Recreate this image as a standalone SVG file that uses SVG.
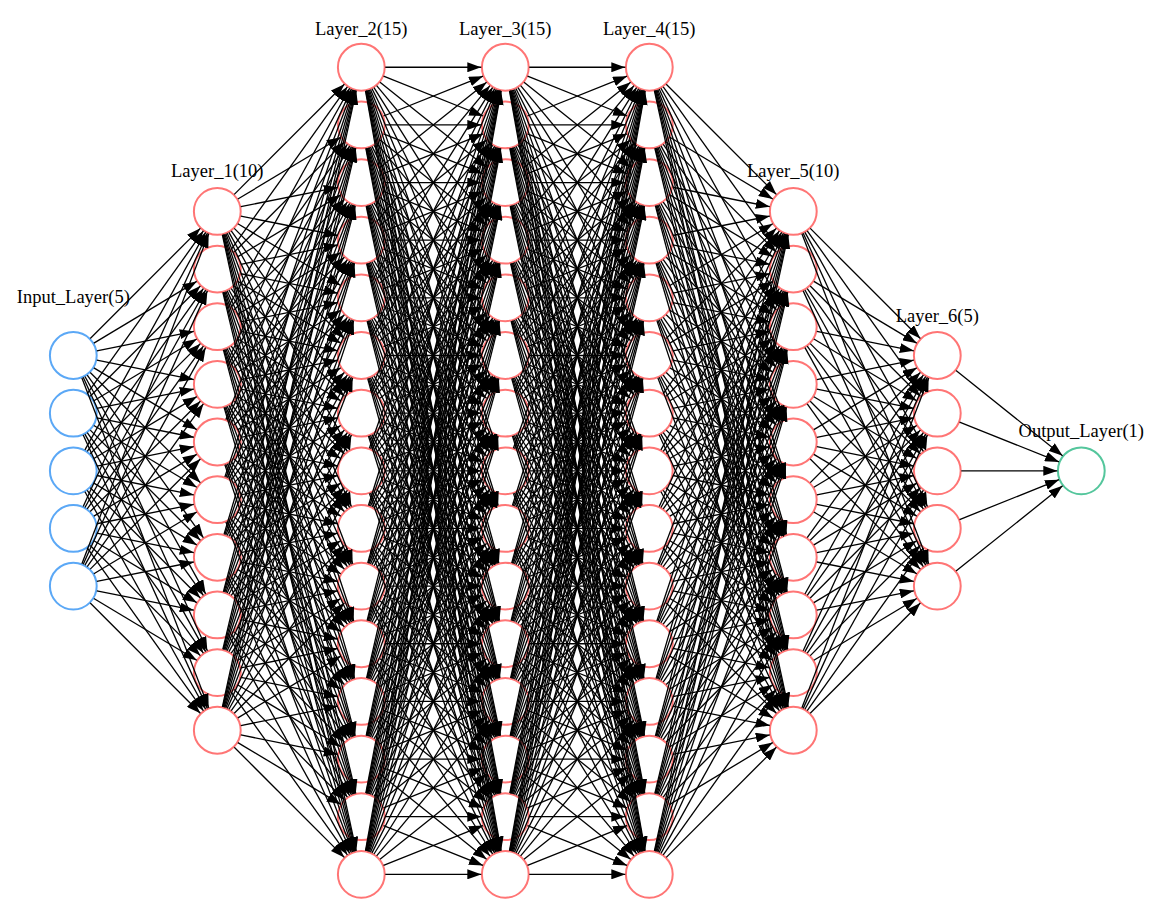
<svg xmlns="http://www.w3.org/2000/svg" xmlns:xlink="http://www.w3.org/1999/xlink" width="1161" height="903" viewBox="0 0 1161 903">
<style>
.n circle{fill:#fff;stroke-width:2}
.in circle{stroke:#5ba8f6}
.hd circle{stroke:#ff7575}
.ot circle{stroke:#54c69c}
.lb text{font-family:"Liberation Serif","Times New Roman",serif;font-size:18.5px;fill:#000;text-anchor:middle}
</style>
<defs>
<marker id="arr" viewBox="0 -5 14 10" refX="14" refY="0" markerWidth="14" markerHeight="10" markerUnits="userSpaceOnUse" orient="auto"><path d="M0,-5L14,0L0,5z" fill="#000" stroke="none"/></marker>
<g id="tpl">
<path id="a0" d="M24 0L120 0"/>
<path id="a1" d="M23.53 4.71L120.47 24.11"/><path id="b1" d="M23.53 -4.71L120.47 -24.11"/>
<path id="a2" d="M22.28 8.92L121.72 48.73"/><path id="b2" d="M22.28 -8.92L121.72 -48.73"/>
<path id="a3" d="M20.58 12.36L123.42 74.12"/><path id="b3" d="M20.58 -12.36L123.42 -74.12"/>
<path id="a4" d="M18.73 15L125.27 100.3"/><path id="b4" d="M18.73 -15L125.27 -100.3"/>
<path id="a5" d="M16.96 16.98L127.04 127.15"/><path id="b5" d="M16.96 -16.98L127.04 -127.15"/>
<path id="a6" d="M15.36 18.44L128.64 154.51"/><path id="b6" d="M15.36 -18.44L128.64 -154.51"/>
<path id="a7" d="M13.94 19.54L130.06 182.24"/><path id="b7" d="M13.94 -19.54L130.06 -182.24"/>
<path id="a8" d="M12.71 20.36L131.29 210.24"/><path id="b8" d="M12.71 -20.36L131.29 -210.24"/>
<path id="a9" d="M11.65 20.98L132.35 238.44"/><path id="b9" d="M11.65 -20.98L132.35 -238.44"/>
<path id="a10" d="M10.73 21.47L133.27 266.78"/><path id="b10" d="M10.73 -21.47L133.27 -266.78"/>
<path id="a11" d="M9.92 21.85L134.08 295.22"/><path id="b11" d="M9.92 -21.85L134.08 -295.22"/>
<path id="a12" d="M9.22 22.16L134.78 323.74"/><path id="b12" d="M9.22 -22.16L134.78 -323.74"/>
<path id="a13" d="M8.61 22.4L135.39 352.32"/><path id="b13" d="M8.61 -22.4L135.39 -352.32"/>
<path id="a14" d="M8.07 22.6L135.93 380.95"/><path id="b14" d="M8.07 -22.6L135.93 -380.95"/>
<path id="a15" d="M7.58 22.77L136.42 409.61"/><path id="b15" d="M7.58 -22.77L136.42 -409.61"/>
<path id="a16" d="M7.15 22.91L136.85 438.29"/><path id="b16" d="M7.15 -22.91L136.85 -438.29"/>
<path id="a17" d="M6.77 23.03L137.23 467"/><path id="b17" d="M6.77 -23.03L137.23 -467"/>
<path id="a18" d="M6.42 23.13L137.58 495.72"/><path id="b18" d="M6.42 -23.13L137.58 -495.72"/>
<path id="a19" d="M6.1 23.21L137.9 524.46"/><path id="b19" d="M6.1 -23.21L137.9 -524.46"/>
<path id="a20" d="M5.82 23.29L138.18 553.22"/><path id="b20" d="M5.82 -23.29L138.18 -553.22"/>
<path id="a21" d="M5.55 23.35L138.45 581.98"/><path id="b21" d="M5.55 -23.35L138.45 -581.98"/>
<path id="a22" d="M5.32 23.4L138.68 610.75"/><path id="b22" d="M5.32 -23.4L138.68 -610.75"/>
<path id="a23" d="M5.09 23.45L138.91 639.52"/><path id="b23" d="M5.09 -23.45L138.91 -639.52"/>
<path id="a24" d="M4.89 23.5L139.11 668.3"/><path id="b24" d="M4.89 -23.5L139.11 -668.3"/>
<path id="a26" d="M4.53 23.57L139.47 725.88"/><path id="b26" d="M4.53 -23.57L139.47 -725.88"/>
<path id="a28" d="M4.22 23.63L139.78 783.47"/><path id="b28" d="M4.22 -23.63L139.78 -783.47"/>
</g>
</defs>
<rect width="1161" height="903" fill="#fff"/>
<g id="nodes">
<g id="input_0" class="n in"><circle cx="73.3" cy="355.5" r="23.4"/></g>
<g id="input_1" class="n in"><circle cx="73.3" cy="413.15" r="23.4"/></g>
<g id="input_2" class="n in"><circle cx="73.3" cy="470.8" r="23.4"/></g>
<g id="input_3" class="n in"><circle cx="73.3" cy="528.45" r="23.4"/></g>
<g id="input_4" class="n in"><circle cx="73.3" cy="586.1" r="23.4"/></g>
<g id="l1_0" class="n hd"><circle cx="217.3" cy="211.38" r="23.4"/></g>
<g id="l1_1" class="n hd"><circle cx="217.3" cy="269.03" r="23.4"/></g>
<g id="l1_2" class="n hd"><circle cx="217.3" cy="326.68" r="23.4"/></g>
<g id="l1_3" class="n hd"><circle cx="217.3" cy="384.33" r="23.4"/></g>
<g id="l1_4" class="n hd"><circle cx="217.3" cy="441.98" r="23.4"/></g>
<g id="l1_5" class="n hd"><circle cx="217.3" cy="499.63" r="23.4"/></g>
<g id="l1_6" class="n hd"><circle cx="217.3" cy="557.28" r="23.4"/></g>
<g id="l1_7" class="n hd"><circle cx="217.3" cy="614.93" r="23.4"/></g>
<g id="l1_8" class="n hd"><circle cx="217.3" cy="672.58" r="23.4"/></g>
<g id="l1_9" class="n hd"><circle cx="217.3" cy="730.23" r="23.4"/></g>
<g id="l2_0" class="n hd"><circle cx="361.3" cy="67.25" r="23.4"/></g>
<g id="l2_1" class="n hd"><circle cx="361.3" cy="124.9" r="23.4"/></g>
<g id="l2_2" class="n hd"><circle cx="361.3" cy="182.55" r="23.4"/></g>
<g id="l2_3" class="n hd"><circle cx="361.3" cy="240.2" r="23.4"/></g>
<g id="l2_4" class="n hd"><circle cx="361.3" cy="297.85" r="23.4"/></g>
<g id="l2_5" class="n hd"><circle cx="361.3" cy="355.5" r="23.4"/></g>
<g id="l2_6" class="n hd"><circle cx="361.3" cy="413.15" r="23.4"/></g>
<g id="l2_7" class="n hd"><circle cx="361.3" cy="470.8" r="23.4"/></g>
<g id="l2_8" class="n hd"><circle cx="361.3" cy="528.45" r="23.4"/></g>
<g id="l2_9" class="n hd"><circle cx="361.3" cy="586.1" r="23.4"/></g>
<g id="l2_10" class="n hd"><circle cx="361.3" cy="643.75" r="23.4"/></g>
<g id="l2_11" class="n hd"><circle cx="361.3" cy="701.4" r="23.4"/></g>
<g id="l2_12" class="n hd"><circle cx="361.3" cy="759.05" r="23.4"/></g>
<g id="l2_13" class="n hd"><circle cx="361.3" cy="816.7" r="23.4"/></g>
<g id="l2_14" class="n hd"><circle cx="361.3" cy="874.35" r="23.4"/></g>
<g id="l3_0" class="n hd"><circle cx="505.3" cy="67.25" r="23.4"/></g>
<g id="l3_1" class="n hd"><circle cx="505.3" cy="124.9" r="23.4"/></g>
<g id="l3_2" class="n hd"><circle cx="505.3" cy="182.55" r="23.4"/></g>
<g id="l3_3" class="n hd"><circle cx="505.3" cy="240.2" r="23.4"/></g>
<g id="l3_4" class="n hd"><circle cx="505.3" cy="297.85" r="23.4"/></g>
<g id="l3_5" class="n hd"><circle cx="505.3" cy="355.5" r="23.4"/></g>
<g id="l3_6" class="n hd"><circle cx="505.3" cy="413.15" r="23.4"/></g>
<g id="l3_7" class="n hd"><circle cx="505.3" cy="470.8" r="23.4"/></g>
<g id="l3_8" class="n hd"><circle cx="505.3" cy="528.45" r="23.4"/></g>
<g id="l3_9" class="n hd"><circle cx="505.3" cy="586.1" r="23.4"/></g>
<g id="l3_10" class="n hd"><circle cx="505.3" cy="643.75" r="23.4"/></g>
<g id="l3_11" class="n hd"><circle cx="505.3" cy="701.4" r="23.4"/></g>
<g id="l3_12" class="n hd"><circle cx="505.3" cy="759.05" r="23.4"/></g>
<g id="l3_13" class="n hd"><circle cx="505.3" cy="816.7" r="23.4"/></g>
<g id="l3_14" class="n hd"><circle cx="505.3" cy="874.35" r="23.4"/></g>
<g id="l4_0" class="n hd"><circle cx="649.3" cy="67.25" r="23.4"/></g>
<g id="l4_1" class="n hd"><circle cx="649.3" cy="124.9" r="23.4"/></g>
<g id="l4_2" class="n hd"><circle cx="649.3" cy="182.55" r="23.4"/></g>
<g id="l4_3" class="n hd"><circle cx="649.3" cy="240.2" r="23.4"/></g>
<g id="l4_4" class="n hd"><circle cx="649.3" cy="297.85" r="23.4"/></g>
<g id="l4_5" class="n hd"><circle cx="649.3" cy="355.5" r="23.4"/></g>
<g id="l4_6" class="n hd"><circle cx="649.3" cy="413.15" r="23.4"/></g>
<g id="l4_7" class="n hd"><circle cx="649.3" cy="470.8" r="23.4"/></g>
<g id="l4_8" class="n hd"><circle cx="649.3" cy="528.45" r="23.4"/></g>
<g id="l4_9" class="n hd"><circle cx="649.3" cy="586.1" r="23.4"/></g>
<g id="l4_10" class="n hd"><circle cx="649.3" cy="643.75" r="23.4"/></g>
<g id="l4_11" class="n hd"><circle cx="649.3" cy="701.4" r="23.4"/></g>
<g id="l4_12" class="n hd"><circle cx="649.3" cy="759.05" r="23.4"/></g>
<g id="l4_13" class="n hd"><circle cx="649.3" cy="816.7" r="23.4"/></g>
<g id="l4_14" class="n hd"><circle cx="649.3" cy="874.35" r="23.4"/></g>
<g id="l5_0" class="n hd"><circle cx="793.3" cy="211.38" r="23.4"/></g>
<g id="l5_1" class="n hd"><circle cx="793.3" cy="269.03" r="23.4"/></g>
<g id="l5_2" class="n hd"><circle cx="793.3" cy="326.68" r="23.4"/></g>
<g id="l5_3" class="n hd"><circle cx="793.3" cy="384.33" r="23.4"/></g>
<g id="l5_4" class="n hd"><circle cx="793.3" cy="441.98" r="23.4"/></g>
<g id="l5_5" class="n hd"><circle cx="793.3" cy="499.63" r="23.4"/></g>
<g id="l5_6" class="n hd"><circle cx="793.3" cy="557.28" r="23.4"/></g>
<g id="l5_7" class="n hd"><circle cx="793.3" cy="614.93" r="23.4"/></g>
<g id="l5_8" class="n hd"><circle cx="793.3" cy="672.58" r="23.4"/></g>
<g id="l5_9" class="n hd"><circle cx="793.3" cy="730.23" r="23.4"/></g>
<g id="l6_0" class="n hd"><circle cx="937.3" cy="355.5" r="23.4"/></g>
<g id="l6_1" class="n hd"><circle cx="937.3" cy="413.15" r="23.4"/></g>
<g id="l6_2" class="n hd"><circle cx="937.3" cy="470.8" r="23.4"/></g>
<g id="l6_3" class="n hd"><circle cx="937.3" cy="528.45" r="23.4"/></g>
<g id="l6_4" class="n hd"><circle cx="937.3" cy="586.1" r="23.4"/></g>
<g id="output_0" class="n ot"><circle cx="1081.3" cy="470.8" r="23.4"/></g>
</g>
<g id="labels" class="lb">
<text x="73.3" y="303.3">Input_Layer(5)</text>
<text x="217.3" y="177.3">Layer_1(10)</text>
<text x="361.3" y="35">Layer_2(15)</text>
<text x="505.3" y="35">Layer_3(15)</text>
<text x="649.3" y="35">Layer_4(15)</text>
<text x="793.3" y="177.3">Layer_5(10)</text>
<text x="937.3" y="321.7">Layer_6(5)</text>
<text x="1081.3" y="436.7">Output_Layer(1)</text>
</g>
<g id="connectors" fill="none" stroke="#000" stroke-width="1.3" marker-end="url(#arr)">
<g id="e_in_l1">
<g transform="translate(73.3,355.5)"><use href="#b5"/><use href="#b3"/><use href="#b1"/><use href="#a1"/><use href="#a3"/><use href="#a5"/><use href="#a7"/><use href="#a9"/><use href="#a11"/><use href="#a13"/></g>
<g transform="translate(73.3,413.15)"><use href="#b7"/><use href="#b5"/><use href="#b3"/><use href="#b1"/><use href="#a1"/><use href="#a3"/><use href="#a5"/><use href="#a7"/><use href="#a9"/><use href="#a11"/></g>
<g transform="translate(73.3,470.8)"><use href="#b9"/><use href="#b7"/><use href="#b5"/><use href="#b3"/><use href="#b1"/><use href="#a1"/><use href="#a3"/><use href="#a5"/><use href="#a7"/><use href="#a9"/></g>
<g transform="translate(73.3,528.45)"><use href="#b11"/><use href="#b9"/><use href="#b7"/><use href="#b5"/><use href="#b3"/><use href="#b1"/><use href="#a1"/><use href="#a3"/><use href="#a5"/><use href="#a7"/></g>
<g transform="translate(73.3,586.1)"><use href="#b13"/><use href="#b11"/><use href="#b9"/><use href="#b7"/><use href="#b5"/><use href="#b3"/><use href="#b1"/><use href="#a1"/><use href="#a3"/><use href="#a5"/></g>
</g>
<g id="e_l1_l2">
<g transform="translate(217.3,211.38)"><use href="#b5"/><use href="#b3"/><use href="#b1"/><use href="#a1"/><use href="#a3"/><use href="#a5"/><use href="#a7"/><use href="#a9"/><use href="#a11"/><use href="#a13"/><use href="#a15"/><use href="#a17"/><use href="#a19"/><use href="#a21"/><use href="#a23"/></g>
<g transform="translate(217.3,269.03)"><use href="#b7"/><use href="#b5"/><use href="#b3"/><use href="#b1"/><use href="#a1"/><use href="#a3"/><use href="#a5"/><use href="#a7"/><use href="#a9"/><use href="#a11"/><use href="#a13"/><use href="#a15"/><use href="#a17"/><use href="#a19"/><use href="#a21"/></g>
<g transform="translate(217.3,326.68)"><use href="#b9"/><use href="#b7"/><use href="#b5"/><use href="#b3"/><use href="#b1"/><use href="#a1"/><use href="#a3"/><use href="#a5"/><use href="#a7"/><use href="#a9"/><use href="#a11"/><use href="#a13"/><use href="#a15"/><use href="#a17"/><use href="#a19"/></g>
<g transform="translate(217.3,384.33)"><use href="#b11"/><use href="#b9"/><use href="#b7"/><use href="#b5"/><use href="#b3"/><use href="#b1"/><use href="#a1"/><use href="#a3"/><use href="#a5"/><use href="#a7"/><use href="#a9"/><use href="#a11"/><use href="#a13"/><use href="#a15"/><use href="#a17"/></g>
<g transform="translate(217.3,441.98)"><use href="#b13"/><use href="#b11"/><use href="#b9"/><use href="#b7"/><use href="#b5"/><use href="#b3"/><use href="#b1"/><use href="#a1"/><use href="#a3"/><use href="#a5"/><use href="#a7"/><use href="#a9"/><use href="#a11"/><use href="#a13"/><use href="#a15"/></g>
<g transform="translate(217.3,499.63)"><use href="#b15"/><use href="#b13"/><use href="#b11"/><use href="#b9"/><use href="#b7"/><use href="#b5"/><use href="#b3"/><use href="#b1"/><use href="#a1"/><use href="#a3"/><use href="#a5"/><use href="#a7"/><use href="#a9"/><use href="#a11"/><use href="#a13"/></g>
<g transform="translate(217.3,557.28)"><use href="#b17"/><use href="#b15"/><use href="#b13"/><use href="#b11"/><use href="#b9"/><use href="#b7"/><use href="#b5"/><use href="#b3"/><use href="#b1"/><use href="#a1"/><use href="#a3"/><use href="#a5"/><use href="#a7"/><use href="#a9"/><use href="#a11"/></g>
<g transform="translate(217.3,614.93)"><use href="#b19"/><use href="#b17"/><use href="#b15"/><use href="#b13"/><use href="#b11"/><use href="#b9"/><use href="#b7"/><use href="#b5"/><use href="#b3"/><use href="#b1"/><use href="#a1"/><use href="#a3"/><use href="#a5"/><use href="#a7"/><use href="#a9"/></g>
<g transform="translate(217.3,672.58)"><use href="#b21"/><use href="#b19"/><use href="#b17"/><use href="#b15"/><use href="#b13"/><use href="#b11"/><use href="#b9"/><use href="#b7"/><use href="#b5"/><use href="#b3"/><use href="#b1"/><use href="#a1"/><use href="#a3"/><use href="#a5"/><use href="#a7"/></g>
<g transform="translate(217.3,730.23)"><use href="#b23"/><use href="#b21"/><use href="#b19"/><use href="#b17"/><use href="#b15"/><use href="#b13"/><use href="#b11"/><use href="#b9"/><use href="#b7"/><use href="#b5"/><use href="#b3"/><use href="#b1"/><use href="#a1"/><use href="#a3"/><use href="#a5"/></g>
</g>
<g id="e_l2_l3">
<g transform="translate(361.3,67.25)"><use href="#a0"/><use href="#a2"/><use href="#a4"/><use href="#a6"/><use href="#a8"/><use href="#a10"/><use href="#a12"/><use href="#a14"/><use href="#a16"/><use href="#a18"/><use href="#a20"/><use href="#a22"/><use href="#a24"/><use href="#a26"/><use href="#a28"/></g>
<g transform="translate(361.3,124.9)"><use href="#b2"/><use href="#a0"/><use href="#a2"/><use href="#a4"/><use href="#a6"/><use href="#a8"/><use href="#a10"/><use href="#a12"/><use href="#a14"/><use href="#a16"/><use href="#a18"/><use href="#a20"/><use href="#a22"/><use href="#a24"/><use href="#a26"/></g>
<g transform="translate(361.3,182.55)"><use href="#b4"/><use href="#b2"/><use href="#a0"/><use href="#a2"/><use href="#a4"/><use href="#a6"/><use href="#a8"/><use href="#a10"/><use href="#a12"/><use href="#a14"/><use href="#a16"/><use href="#a18"/><use href="#a20"/><use href="#a22"/><use href="#a24"/></g>
<g transform="translate(361.3,240.2)"><use href="#b6"/><use href="#b4"/><use href="#b2"/><use href="#a0"/><use href="#a2"/><use href="#a4"/><use href="#a6"/><use href="#a8"/><use href="#a10"/><use href="#a12"/><use href="#a14"/><use href="#a16"/><use href="#a18"/><use href="#a20"/><use href="#a22"/></g>
<g transform="translate(361.3,297.85)"><use href="#b8"/><use href="#b6"/><use href="#b4"/><use href="#b2"/><use href="#a0"/><use href="#a2"/><use href="#a4"/><use href="#a6"/><use href="#a8"/><use href="#a10"/><use href="#a12"/><use href="#a14"/><use href="#a16"/><use href="#a18"/><use href="#a20"/></g>
<g transform="translate(361.3,355.5)"><use href="#b10"/><use href="#b8"/><use href="#b6"/><use href="#b4"/><use href="#b2"/><use href="#a0"/><use href="#a2"/><use href="#a4"/><use href="#a6"/><use href="#a8"/><use href="#a10"/><use href="#a12"/><use href="#a14"/><use href="#a16"/><use href="#a18"/></g>
<g transform="translate(361.3,413.15)"><use href="#b12"/><use href="#b10"/><use href="#b8"/><use href="#b6"/><use href="#b4"/><use href="#b2"/><use href="#a0"/><use href="#a2"/><use href="#a4"/><use href="#a6"/><use href="#a8"/><use href="#a10"/><use href="#a12"/><use href="#a14"/><use href="#a16"/></g>
<g transform="translate(361.3,470.8)"><use href="#b14"/><use href="#b12"/><use href="#b10"/><use href="#b8"/><use href="#b6"/><use href="#b4"/><use href="#b2"/><use href="#a0"/><use href="#a2"/><use href="#a4"/><use href="#a6"/><use href="#a8"/><use href="#a10"/><use href="#a12"/><use href="#a14"/></g>
<g transform="translate(361.3,528.45)"><use href="#b16"/><use href="#b14"/><use href="#b12"/><use href="#b10"/><use href="#b8"/><use href="#b6"/><use href="#b4"/><use href="#b2"/><use href="#a0"/><use href="#a2"/><use href="#a4"/><use href="#a6"/><use href="#a8"/><use href="#a10"/><use href="#a12"/></g>
<g transform="translate(361.3,586.1)"><use href="#b18"/><use href="#b16"/><use href="#b14"/><use href="#b12"/><use href="#b10"/><use href="#b8"/><use href="#b6"/><use href="#b4"/><use href="#b2"/><use href="#a0"/><use href="#a2"/><use href="#a4"/><use href="#a6"/><use href="#a8"/><use href="#a10"/></g>
<g transform="translate(361.3,643.75)"><use href="#b20"/><use href="#b18"/><use href="#b16"/><use href="#b14"/><use href="#b12"/><use href="#b10"/><use href="#b8"/><use href="#b6"/><use href="#b4"/><use href="#b2"/><use href="#a0"/><use href="#a2"/><use href="#a4"/><use href="#a6"/><use href="#a8"/></g>
<g transform="translate(361.3,701.4)"><use href="#b22"/><use href="#b20"/><use href="#b18"/><use href="#b16"/><use href="#b14"/><use href="#b12"/><use href="#b10"/><use href="#b8"/><use href="#b6"/><use href="#b4"/><use href="#b2"/><use href="#a0"/><use href="#a2"/><use href="#a4"/><use href="#a6"/></g>
<g transform="translate(361.3,759.05)"><use href="#b24"/><use href="#b22"/><use href="#b20"/><use href="#b18"/><use href="#b16"/><use href="#b14"/><use href="#b12"/><use href="#b10"/><use href="#b8"/><use href="#b6"/><use href="#b4"/><use href="#b2"/><use href="#a0"/><use href="#a2"/><use href="#a4"/></g>
<g transform="translate(361.3,816.7)"><use href="#b26"/><use href="#b24"/><use href="#b22"/><use href="#b20"/><use href="#b18"/><use href="#b16"/><use href="#b14"/><use href="#b12"/><use href="#b10"/><use href="#b8"/><use href="#b6"/><use href="#b4"/><use href="#b2"/><use href="#a0"/><use href="#a2"/></g>
<g transform="translate(361.3,874.35)"><use href="#b28"/><use href="#b26"/><use href="#b24"/><use href="#b22"/><use href="#b20"/><use href="#b18"/><use href="#b16"/><use href="#b14"/><use href="#b12"/><use href="#b10"/><use href="#b8"/><use href="#b6"/><use href="#b4"/><use href="#b2"/><use href="#a0"/></g>
</g>
<use id="e_l3_l4" href="#e_l2_l3" x="144"/>
<g id="e_l4_l5">
<g transform="translate(649.3,67.25)"><use href="#a5"/><use href="#a7"/><use href="#a9"/><use href="#a11"/><use href="#a13"/><use href="#a15"/><use href="#a17"/><use href="#a19"/><use href="#a21"/><use href="#a23"/></g>
<g transform="translate(649.3,124.9)"><use href="#a3"/><use href="#a5"/><use href="#a7"/><use href="#a9"/><use href="#a11"/><use href="#a13"/><use href="#a15"/><use href="#a17"/><use href="#a19"/><use href="#a21"/></g>
<g transform="translate(649.3,182.55)"><use href="#a1"/><use href="#a3"/><use href="#a5"/><use href="#a7"/><use href="#a9"/><use href="#a11"/><use href="#a13"/><use href="#a15"/><use href="#a17"/><use href="#a19"/></g>
<g transform="translate(649.3,240.2)"><use href="#b1"/><use href="#a1"/><use href="#a3"/><use href="#a5"/><use href="#a7"/><use href="#a9"/><use href="#a11"/><use href="#a13"/><use href="#a15"/><use href="#a17"/></g>
<g transform="translate(649.3,297.85)"><use href="#b3"/><use href="#b1"/><use href="#a1"/><use href="#a3"/><use href="#a5"/><use href="#a7"/><use href="#a9"/><use href="#a11"/><use href="#a13"/><use href="#a15"/></g>
<g transform="translate(649.3,355.5)"><use href="#b5"/><use href="#b3"/><use href="#b1"/><use href="#a1"/><use href="#a3"/><use href="#a5"/><use href="#a7"/><use href="#a9"/><use href="#a11"/><use href="#a13"/></g>
<g transform="translate(649.3,413.15)"><use href="#b7"/><use href="#b5"/><use href="#b3"/><use href="#b1"/><use href="#a1"/><use href="#a3"/><use href="#a5"/><use href="#a7"/><use href="#a9"/><use href="#a11"/></g>
<g transform="translate(649.3,470.8)"><use href="#b9"/><use href="#b7"/><use href="#b5"/><use href="#b3"/><use href="#b1"/><use href="#a1"/><use href="#a3"/><use href="#a5"/><use href="#a7"/><use href="#a9"/></g>
<g transform="translate(649.3,528.45)"><use href="#b11"/><use href="#b9"/><use href="#b7"/><use href="#b5"/><use href="#b3"/><use href="#b1"/><use href="#a1"/><use href="#a3"/><use href="#a5"/><use href="#a7"/></g>
<g transform="translate(649.3,586.1)"><use href="#b13"/><use href="#b11"/><use href="#b9"/><use href="#b7"/><use href="#b5"/><use href="#b3"/><use href="#b1"/><use href="#a1"/><use href="#a3"/><use href="#a5"/></g>
<g transform="translate(649.3,643.75)"><use href="#b15"/><use href="#b13"/><use href="#b11"/><use href="#b9"/><use href="#b7"/><use href="#b5"/><use href="#b3"/><use href="#b1"/><use href="#a1"/><use href="#a3"/></g>
<g transform="translate(649.3,701.4)"><use href="#b17"/><use href="#b15"/><use href="#b13"/><use href="#b11"/><use href="#b9"/><use href="#b7"/><use href="#b5"/><use href="#b3"/><use href="#b1"/><use href="#a1"/></g>
<g transform="translate(649.3,759.05)"><use href="#b19"/><use href="#b17"/><use href="#b15"/><use href="#b13"/><use href="#b11"/><use href="#b9"/><use href="#b7"/><use href="#b5"/><use href="#b3"/><use href="#b1"/></g>
<g transform="translate(649.3,816.7)"><use href="#b21"/><use href="#b19"/><use href="#b17"/><use href="#b15"/><use href="#b13"/><use href="#b11"/><use href="#b9"/><use href="#b7"/><use href="#b5"/><use href="#b3"/></g>
<g transform="translate(649.3,874.35)"><use href="#b23"/><use href="#b21"/><use href="#b19"/><use href="#b17"/><use href="#b15"/><use href="#b13"/><use href="#b11"/><use href="#b9"/><use href="#b7"/><use href="#b5"/></g>
</g>
<g id="e_l5_l6">
<g transform="translate(793.3,211.38)"><use href="#a5"/><use href="#a7"/><use href="#a9"/><use href="#a11"/><use href="#a13"/></g>
<g transform="translate(793.3,269.03)"><use href="#a3"/><use href="#a5"/><use href="#a7"/><use href="#a9"/><use href="#a11"/></g>
<g transform="translate(793.3,326.68)"><use href="#a1"/><use href="#a3"/><use href="#a5"/><use href="#a7"/><use href="#a9"/></g>
<g transform="translate(793.3,384.33)"><use href="#b1"/><use href="#a1"/><use href="#a3"/><use href="#a5"/><use href="#a7"/></g>
<g transform="translate(793.3,441.98)"><use href="#b3"/><use href="#b1"/><use href="#a1"/><use href="#a3"/><use href="#a5"/></g>
<g transform="translate(793.3,499.63)"><use href="#b5"/><use href="#b3"/><use href="#b1"/><use href="#a1"/><use href="#a3"/></g>
<g transform="translate(793.3,557.28)"><use href="#b7"/><use href="#b5"/><use href="#b3"/><use href="#b1"/><use href="#a1"/></g>
<g transform="translate(793.3,614.93)"><use href="#b9"/><use href="#b7"/><use href="#b5"/><use href="#b3"/><use href="#b1"/></g>
<g transform="translate(793.3,672.58)"><use href="#b11"/><use href="#b9"/><use href="#b7"/><use href="#b5"/><use href="#b3"/></g>
<g transform="translate(793.3,730.23)"><use href="#b13"/><use href="#b11"/><use href="#b9"/><use href="#b7"/><use href="#b5"/></g>
</g>
<g id="e_l6_out">
<g transform="translate(937.3,355.5)"><use href="#a4"/></g>
<g transform="translate(937.3,413.15)"><use href="#a2"/></g>
<g transform="translate(937.3,470.8)"><use href="#a0"/></g>
<g transform="translate(937.3,528.45)"><use href="#b2"/></g>
<g transform="translate(937.3,586.1)"><use href="#b4"/></g>
</g>
</g>
</svg>
